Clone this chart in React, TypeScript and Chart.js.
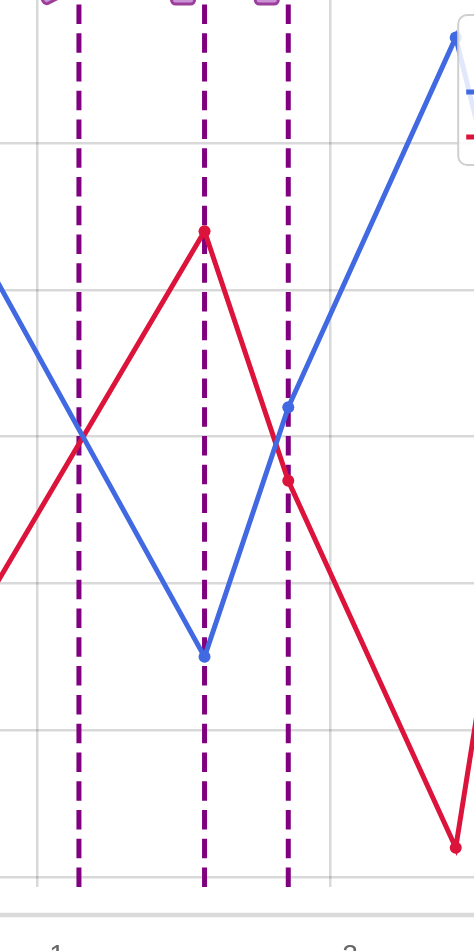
import React, { useEffect, useRef } from "react";
import { Chart, registerables } from "chart.js";

Chart.register(...registerables);

// ---- data ----
const xValues = [5, 11, 13, 17, 18];
const seriesALabel = "Series A";
const seriesBLabel = "Series B";
const seriesA = [56, 25, 42, 67.2, 55.7];
const seriesB = [25, 54, 37, 12, 29.9];
const eventX = [8, 11, 13];
const eventLabels = ["Crossover", "Event 1", "Event 2"];
const xTickValues = [0, 7, 14, 21];
const xTickLabels = ["0", "1", "2", "3"];
const yTickValues = [10, 20, 30, 40, 50, 60, 70];

const BLUE = "#4169E1";
const RED = "#DC143C";
const PURPLE = "#800080";
const GRID = "rgba(0,0,0,0.15)";
const FONT = "'Liberation Sans', Arial, sans-serif";

const eventPlugin = {
  id: "eventLines",
  beforeDatasetsDraw(chart: any) {
    const { ctx, chartArea } = chart;
    const xs = chart.scales.x;
    ctx.save();
    eventX.forEach((v, i) => {
      const px = xs.getPixelForValue(v);
      ctx.beginPath();
      ctx.setLineDash([19.5, 9.27]);
      ctx.lineWidth = 5;
      ctx.strokeStyle = PURPLE;
      ctx.moveTo(px, chartArea.bottom);
      ctx.lineTo(px, chartArea.top);
      ctx.stroke();
      ctx.setLineDash([]);
      // labels
      ctx.font = "bold 18px " + FONT;
      const tw = ctx.measureText(eventLabels[i]).width;
      const h = 23;
      const w = tw + 16;
      ctx.save();
      if (i === 0) {
        ctx.translate(px - 34, chartArea.top + 38);
        ctx.rotate((-27 * Math.PI) / 180);
        ctx.translate(0, -h);
      } else {
        ctx.translate(px - 33, chartArea.top + 37);
        ctx.rotate(-Math.PI / 2);
      }
      ctx.beginPath();
      ctx.roundRect(0, 0, w, h, 4);
      ctx.fillStyle = "rgba(186,110,200,0.75)";
      ctx.fill();
      ctx.lineWidth = 3;
      ctx.strokeStyle = "#9b3f9b";
      ctx.stroke();
      ctx.fillStyle = "#ffffff";
      ctx.textBaseline = "middle";
      ctx.fillText(eventLabels[i], 8, h / 2);
      ctx.restore();
    });
    ctx.restore();
  },
};

const overlayPlugin = {
  id: "overlay",
  afterDraw(chart: any) {
    const { ctx, chartArea } = chart;
    const xs = chart.scales.x;
    ctx.save();
    // axis base line
    ctx.beginPath();
    ctx.lineWidth = 4.5;
    ctx.strokeStyle = "#dadada";
    const ly = xs.top + 28;
    ctx.moveTo(0, ly);
    ctx.lineTo(chart.width, ly);
    ctx.stroke();

    // legend box
    const left = chartArea.right - 165;
    const top = chartArea.top + 48;
    const w = 155;
    const h = 150;
    ctx.beginPath();
    ctx.roundRect(left, top, w, h, 9);
    ctx.fillStyle = "rgba(255,255,255,0.85)";
    ctx.fill();
    ctx.lineWidth = 2;
    ctx.strokeStyle = "#cfcfcf";
    ctx.stroke();
    chart.data.datasets.forEach((ds: any, i: number) => {
      const y = top + 77 + i * 45;
      ctx.beginPath();
      ctx.lineWidth = 5;
      ctx.strokeStyle = ds.borderColor;
      ctx.moveTo(left + 8, y);
      ctx.lineTo(left + 40, y);
      ctx.stroke();
      ctx.fillStyle = "#555";
      ctx.font = "24px " + FONT;
      ctx.textBaseline = "middle";
      ctx.fillText(ds.label, left + 48, y);
    });
    ctx.restore();
  },
};

export default function App() {
  const ref = useRef<HTMLCanvasElement | null>(null);
  useEffect(() => {
    if (!ref.current) return;
    const chart = new Chart(ref.current, {
      type: "line",
      data: {
        datasets: [
          {
            label: seriesALabel,
            data: xValues.map((x, i) => ({ x, y: seriesA[i] })),
            borderColor: BLUE,
            backgroundColor: BLUE,
            pointBackgroundColor: BLUE,
            pointBorderColor: BLUE,
            borderWidth: 5,
            pointRadius: 6,
            pointBorderWidth: 0,
            tension: 0,
          },
          {
            label: seriesBLabel,
            data: xValues.map((x, i) => ({ x, y: seriesB[i] })),
            borderColor: RED,
            backgroundColor: RED,
            pointBackgroundColor: RED,
            pointBorderColor: RED,
            borderWidth: 5,
            pointRadius: 6,
            pointBorderWidth: 0,
            tension: 0,
          },
        ],
      },
      options: {
        responsive: true,
        maintainAspectRatio: false,
        animation: false,
        layout: { padding: { top: 30, right: 30, left: 0, bottom: 0 } },
        plugins: { legend: { display: false }, tooltip: { enabled: false } },
        scales: {
          x: {
            type: "linear",
            min: 0,
            max: 21,
            afterFit: (s: any) => {
              s.height = 120;
            },
            afterBuildTicks: (s: any) => {
              s.ticks = xTickValues.map((v) => ({ value: v }));
            },
            ticks: {
              callback: (v: any) => xTickLabels[xTickValues.indexOf(Number(v))],
              font: { size: 28, family: FONT },
              color: "#666",
              minRotation: 0,
              maxRotation: 0,
              labelOffset: 20,
              padding: 52,
            },
            grid: { color: GRID, lineWidth: 2.5, drawTicks: false },
            border: { display: false },
          },
          y: {
            type: "linear",
            min: 9.32,
            max: 72,
            afterFit: (s: any) => {
              s.width = 60;
            },
            afterBuildTicks: (s: any) => {
              s.ticks = yTickValues.map((v) => ({ value: v }));
            },
            ticks: {
              font: { size: 14, family: FONT },
              color: "#666",
            },
            grid: { color: GRID, lineWidth: 2.5, drawTicks: false },
            border: { display: false },
          },
        },
      },
      plugins: [eventPlugin, overlayPlugin],
    });
    return () => chart.destroy();
  }, []);

  return (
    <div
      style={{
        position: "fixed",
        left: 0,
        top: 0,
        width: 474,
        height: 951,
        overflow: "hidden",
        background: "#fff",
      }}
    >
      <div
        style={{
          position: "absolute",
          left: -316,
          top: -63,
          width: 999,
          height: 1070,
        }}
      >
        <canvas ref={ref} />
      </div>
    </div>
  );
}
